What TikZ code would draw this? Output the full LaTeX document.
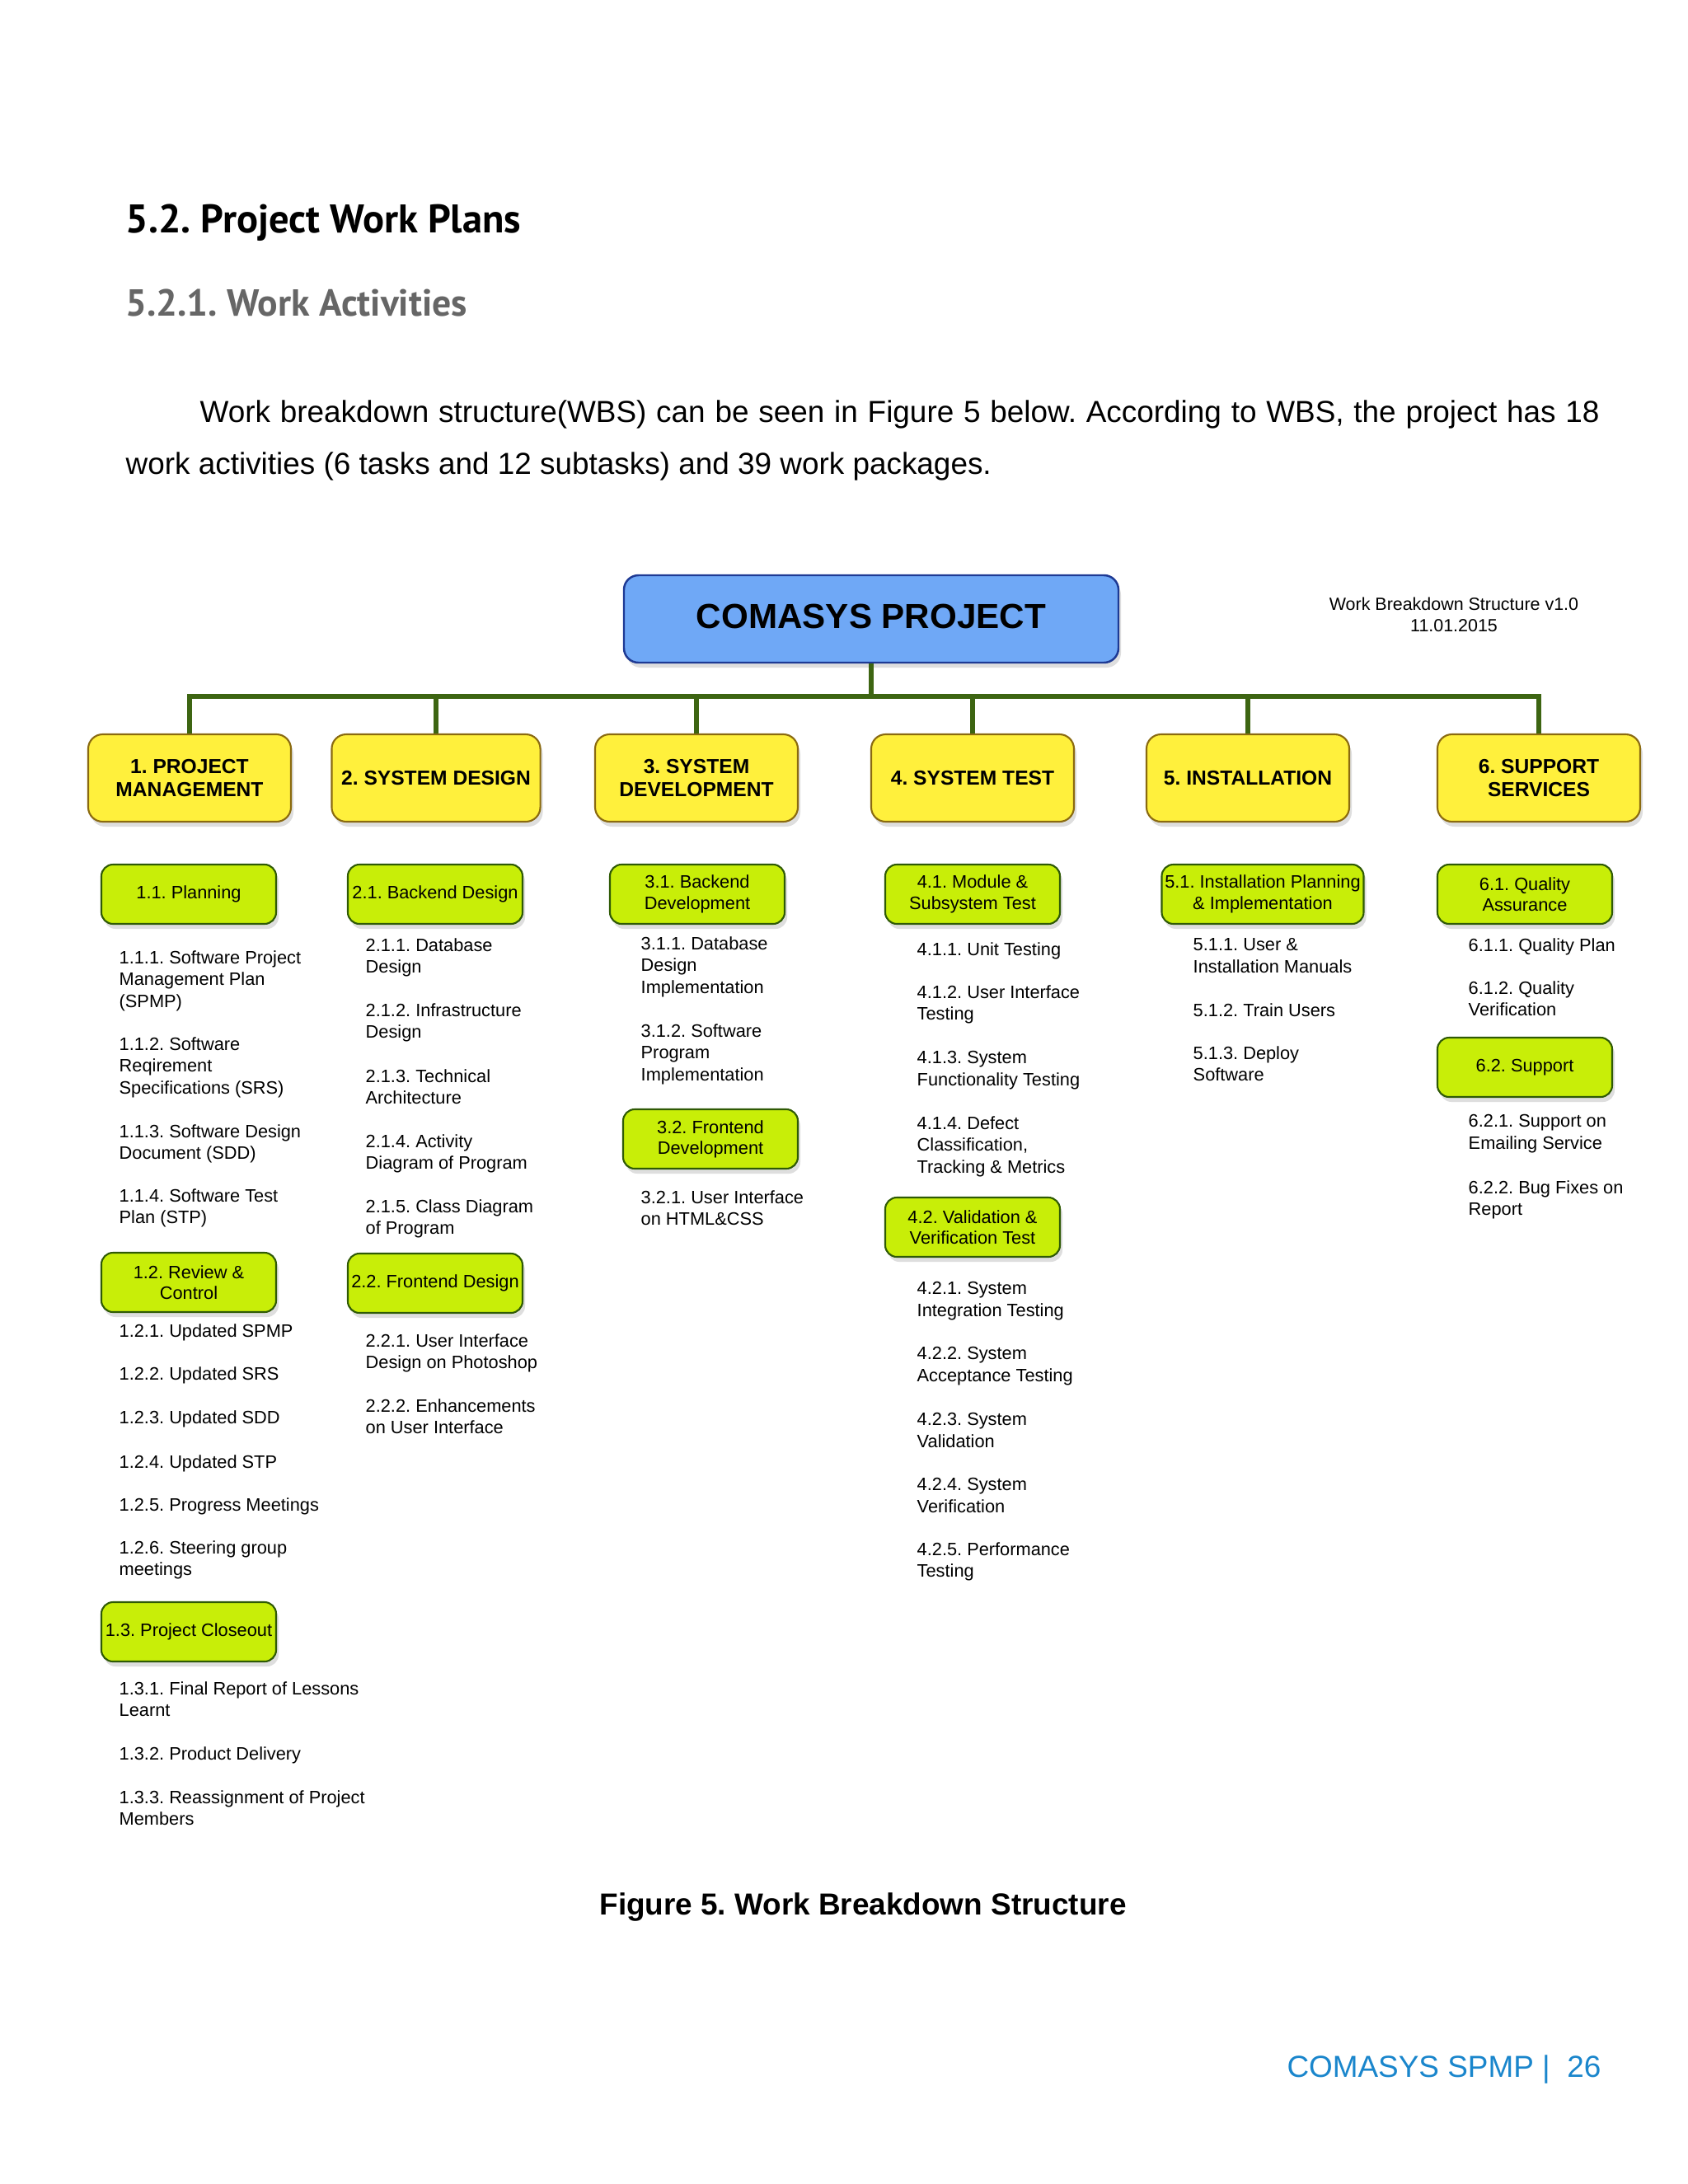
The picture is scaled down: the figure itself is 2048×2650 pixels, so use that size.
\documentclass[tikz,border=0pt]{standalone}
\usepackage{fontspec}
\setmainfont{Liberation Sans}
\newfontfamily\headfont{PT Sans}
\usepackage{xcolor}
\usetikzlibrary{positioning, calc, shadows}

\definecolor{rootfill}{HTML}{6FA8F6}
\definecolor{rootline}{HTML}{1E3A94}
\definecolor{taskfill}{HTML}{FFF03C}
\definecolor{taskline}{HTML}{8A6A10}
\definecolor{subfill}{HTML}{C8EE08}
\definecolor{subline}{HTML}{2F5A05}
\definecolor{linkgreen}{HTML}{3D6512}
\definecolor{footblue}{HTML}{1A86CC}
\definecolor{headgray}{HTML}{666666}

\frenchspacing
\begin{document}
\begin{tikzpicture}[
    x=0.1mm, y=-0.1mm,
    root/.style={draw=rootline, fill=rootfill, line width=0.7pt, rounded corners=5pt,
                 minimum width=60mm, minimum height=10.6mm,
                 font=\fontsize{12}{14}\selectfont\bfseries,
                 drop shadow={shadow xshift=0.3mm, shadow yshift=-0.6mm, fill=black!25}},
    task/.style={draw=taskline, fill=taskfill, line width=0.6pt, rounded corners=5pt,
                 minimum width=24.6mm, minimum height=10.6mm, align=center,
                 font=\fontsize{7}{8.2}\selectfont\bfseries,
                 drop shadow={shadow xshift=0.3mm, shadow yshift=-0.6mm, fill=black!25}},
    subtask/.style={draw=subline, fill=subfill, line width=0.6pt, rounded corners=4pt,
                 minimum width=21.2mm, minimum height=7.2mm, align=center, inner sep=1pt,
                 font=\fontsize{6.2}{7.2}\selectfont,
                 drop shadow={shadow xshift=0.3mm, shadow yshift=-0.6mm, fill=black!25}},
    pkg/.style={anchor=north west, inner sep=0pt, align=left,
                font=\fontsize{6.2}{7.5}\selectfont},
    link/.style={draw=linkgreen, line width=0.6mm},
]
\fill[white] (0,0) rectangle (2048,2650);
\useasboundingbox (0,0) rectangle (2048,2650);

% Page text
\node[anchor=west, inner sep=0pt, font=\headfont\fontsize{13.8}{16}\selectfont\bfseries]
    (h1) at (152,270) {5.2. Project Work Plans};
\node[anchor=west, inner sep=0pt, text=headgray, font=\headfont\fontsize{13}{16}\selectfont\bfseries]
    (h2) at (152,368) {5.2.1. Work Activities};
\node[anchor=north west, inner sep=0pt, text width=178.8mm, align=justify,
      font=\fontsize{10.5}{17.8}\selectfont] (para) at (152,485)
    {\hspace*{9mm}Work breakdown structure(WBS) can be seen in Figure 5 below. According to WBS, the project has 18\linebreak
     work activities (6 tasks and 12 subtasks) and 39 work packages.};

% Root and tasks
\node[root] (root) at (1057,751) {\raisebox{0.6mm}{COMASYS PROJECT}};
\node[align=center, font=\fontsize{6.1}{7.5}\selectfont] (ver) at (1764,746)
    {Work Breakdown Structure v1.0\\11.01.2015};

\coordinate (bus) at (1057,845);

\node[task] (pm)  at (230,944)  {1. PROJECT\\MANAGEMENT};
\node[task] (sd)  at (529,944)  {2. SYSTEM DESIGN};
\node[task] (dev) at (845,944)  {3. SYSTEM\\DEVELOPMENT};
\node[task] (st)  at (1180,944) {4. SYSTEM TEST};
\node[task] (ins) at (1514,944) {5. INSTALLATION};
\node[task] (sup) at (1867,944) {6. SUPPORT\\SERVICES};

\foreach \t in {pm,sd,dev,st,ins,sup}
    \draw[link] (root.south) |- (\t.north |- bus) -- (\t.north);

% Subtasks
\node[subtask] (plan)     at (229,1085)  {1.1. Planning};
\node[subtask] (review)   at (229,1556)  {1.2. Review \&\\Control};
\node[subtask] (closeout) at (229,1980)  {1.3. Project Closeout};
\node[subtask] (backend)  at (528,1085)  {2.1. Backend Design};
\node[subtask] (frontend) at (528,1557)  {2.2. Frontend Design};
\node[subtask] (bedev)    at (846,1085)  {3.1. Backend\\Development};
\node[subtask] (fedev)    at (862,1382)  {3.2. Frontend\\Development};
\node[subtask] (module)   at (1180,1085) {4.1. Module \&\\Subsystem Test};
\node[subtask] (valid)    at (1180,1489) {4.2. Validation \&\\Verification Test};
\node[subtask, minimum width=24.5mm] (instplan) at (1532,1085)
    {5.1. Installation Planning\\\& Implementation};
\node[subtask] (qa)       at (1850,1085) {6.1. Quality\\Assurance};
\node[subtask] (support)  at (1850,1295) {6.2. Support};

% Work packages
\node[pkg] (p111) at (144,1153) {1.1.1. Software Project\\Management Plan\\(SPMP)};
\node[pkg] (p112) at (144,1258) {1.1.2. Software\\Reqirement\\Specifications (SRS)};
\node[pkg] (p113) at (144,1364) {1.1.3. Software Design\\Document (SDD)};
\node[pkg] (p114) at (144,1442) {1.1.4. Software Test\\Plan (STP)};
\node[pkg] (p121) at (144,1606) {1.2.1. Updated SPMP};
\node[pkg] (p122) at (144,1658) {1.2.2. Updated SRS};
\node[pkg] (p123) at (144,1711) {1.2.3. Updated SDD};
\node[pkg] (p124) at (144,1765) {1.2.4. Updated STP};
\node[pkg] (p125) at (144,1817) {1.2.5. Progress Meetings};
\node[pkg] (p126) at (144,1869) {1.2.6. Steering group\\meetings};
\node[pkg] (p131) at (144,2040) {1.3.1. Final Report of Lessons\\Learnt};
\node[pkg] (p132) at (144,2119) {1.3.2. Product Delivery};
\node[pkg] (p133) at (144,2172) {1.3.3. Reassignment of Project\\Members};

\node[pkg] (p211) at (443,1138) {2.1.1. Database\\Design};
\node[pkg] (p212) at (443,1217) {2.1.2. Infrastructure\\Design};
\node[pkg] (p213) at (443,1297) {2.1.3. Technical\\Architecture};
\node[pkg] (p214) at (443,1376) {2.1.4. Activity\\Diagram of Program};
\node[pkg] (p215) at (443,1455) {2.1.5. Class Diagram\\of Program};
\node[pkg] (p221) at (443,1618) {2.2.1. User Interface\\Design on Photoshop};
\node[pkg] (p222) at (443,1697) {2.2.2. Enhancements\\on User Interface};

\node[pkg] (p311) at (777,1136) {3.1.1. Database\\Design\\Implementation};
\node[pkg] (p312) at (777,1242) {3.1.2. Software\\Program\\Implementation};
\node[pkg] (p321) at (777,1444) {3.2.1. User Interface\\on HTML\&CSS};

\node[pkg] (p411) at (1112,1143) {4.1.1. Unit Testing};
\node[pkg] (p412) at (1112,1195) {4.1.2. User Interface\\Testing};
\node[pkg] (p413) at (1112,1275) {4.1.3. System\\Functionality Testing};
\node[pkg] (p414) at (1112,1354) {4.1.4. Defect\\Classification,\\Tracking \& Metrics};
\node[pkg] (p421) at (1112,1555) {4.2.1. System\\Integration Testing};
\node[pkg] (p422) at (1112,1634) {4.2.2. System\\Acceptance Testing};
\node[pkg] (p423) at (1112,1714) {4.2.3. System\\Validation};
\node[pkg] (p424) at (1112,1793) {4.2.4. System\\Verification};
\node[pkg] (p425) at (1112,1871) {4.2.5. Performance\\Testing};

\node[pkg] (p511) at (1447,1138) {5.1.1. User \&\\Installation Manuals};
\node[pkg] (p512) at (1447,1217) {5.1.2. Train Users};
\node[pkg] (p513) at (1447,1269) {5.1.3. Deploy\\Software};

\node[pkg] (p611) at (1781,1138) {6.1.1. Quality Plan};
\node[pkg] (p612) at (1781,1190) {6.1.2. Quality\\Verification};
\node[pkg] (p621) at (1781,1352) {6.2.1. Support on\\Emailing Service};
\node[pkg] (p622) at (1781,1432) {6.2.2. Bug Fixes on\\Report};

% Caption and footer
\node[font=\fontsize{10.5}{12}\selectfont\bfseries] (cap) at (1047,2314)
    {Figure 5. Work Breakdown Structure};
\node[anchor=east, inner sep=0pt, text=footblue, font=\fontsize{10.5}{12}\selectfont]
    (foot) at (1943,2511) {COMASYS SPMP |\ \ 26};
\end{tikzpicture}
\end{document}
